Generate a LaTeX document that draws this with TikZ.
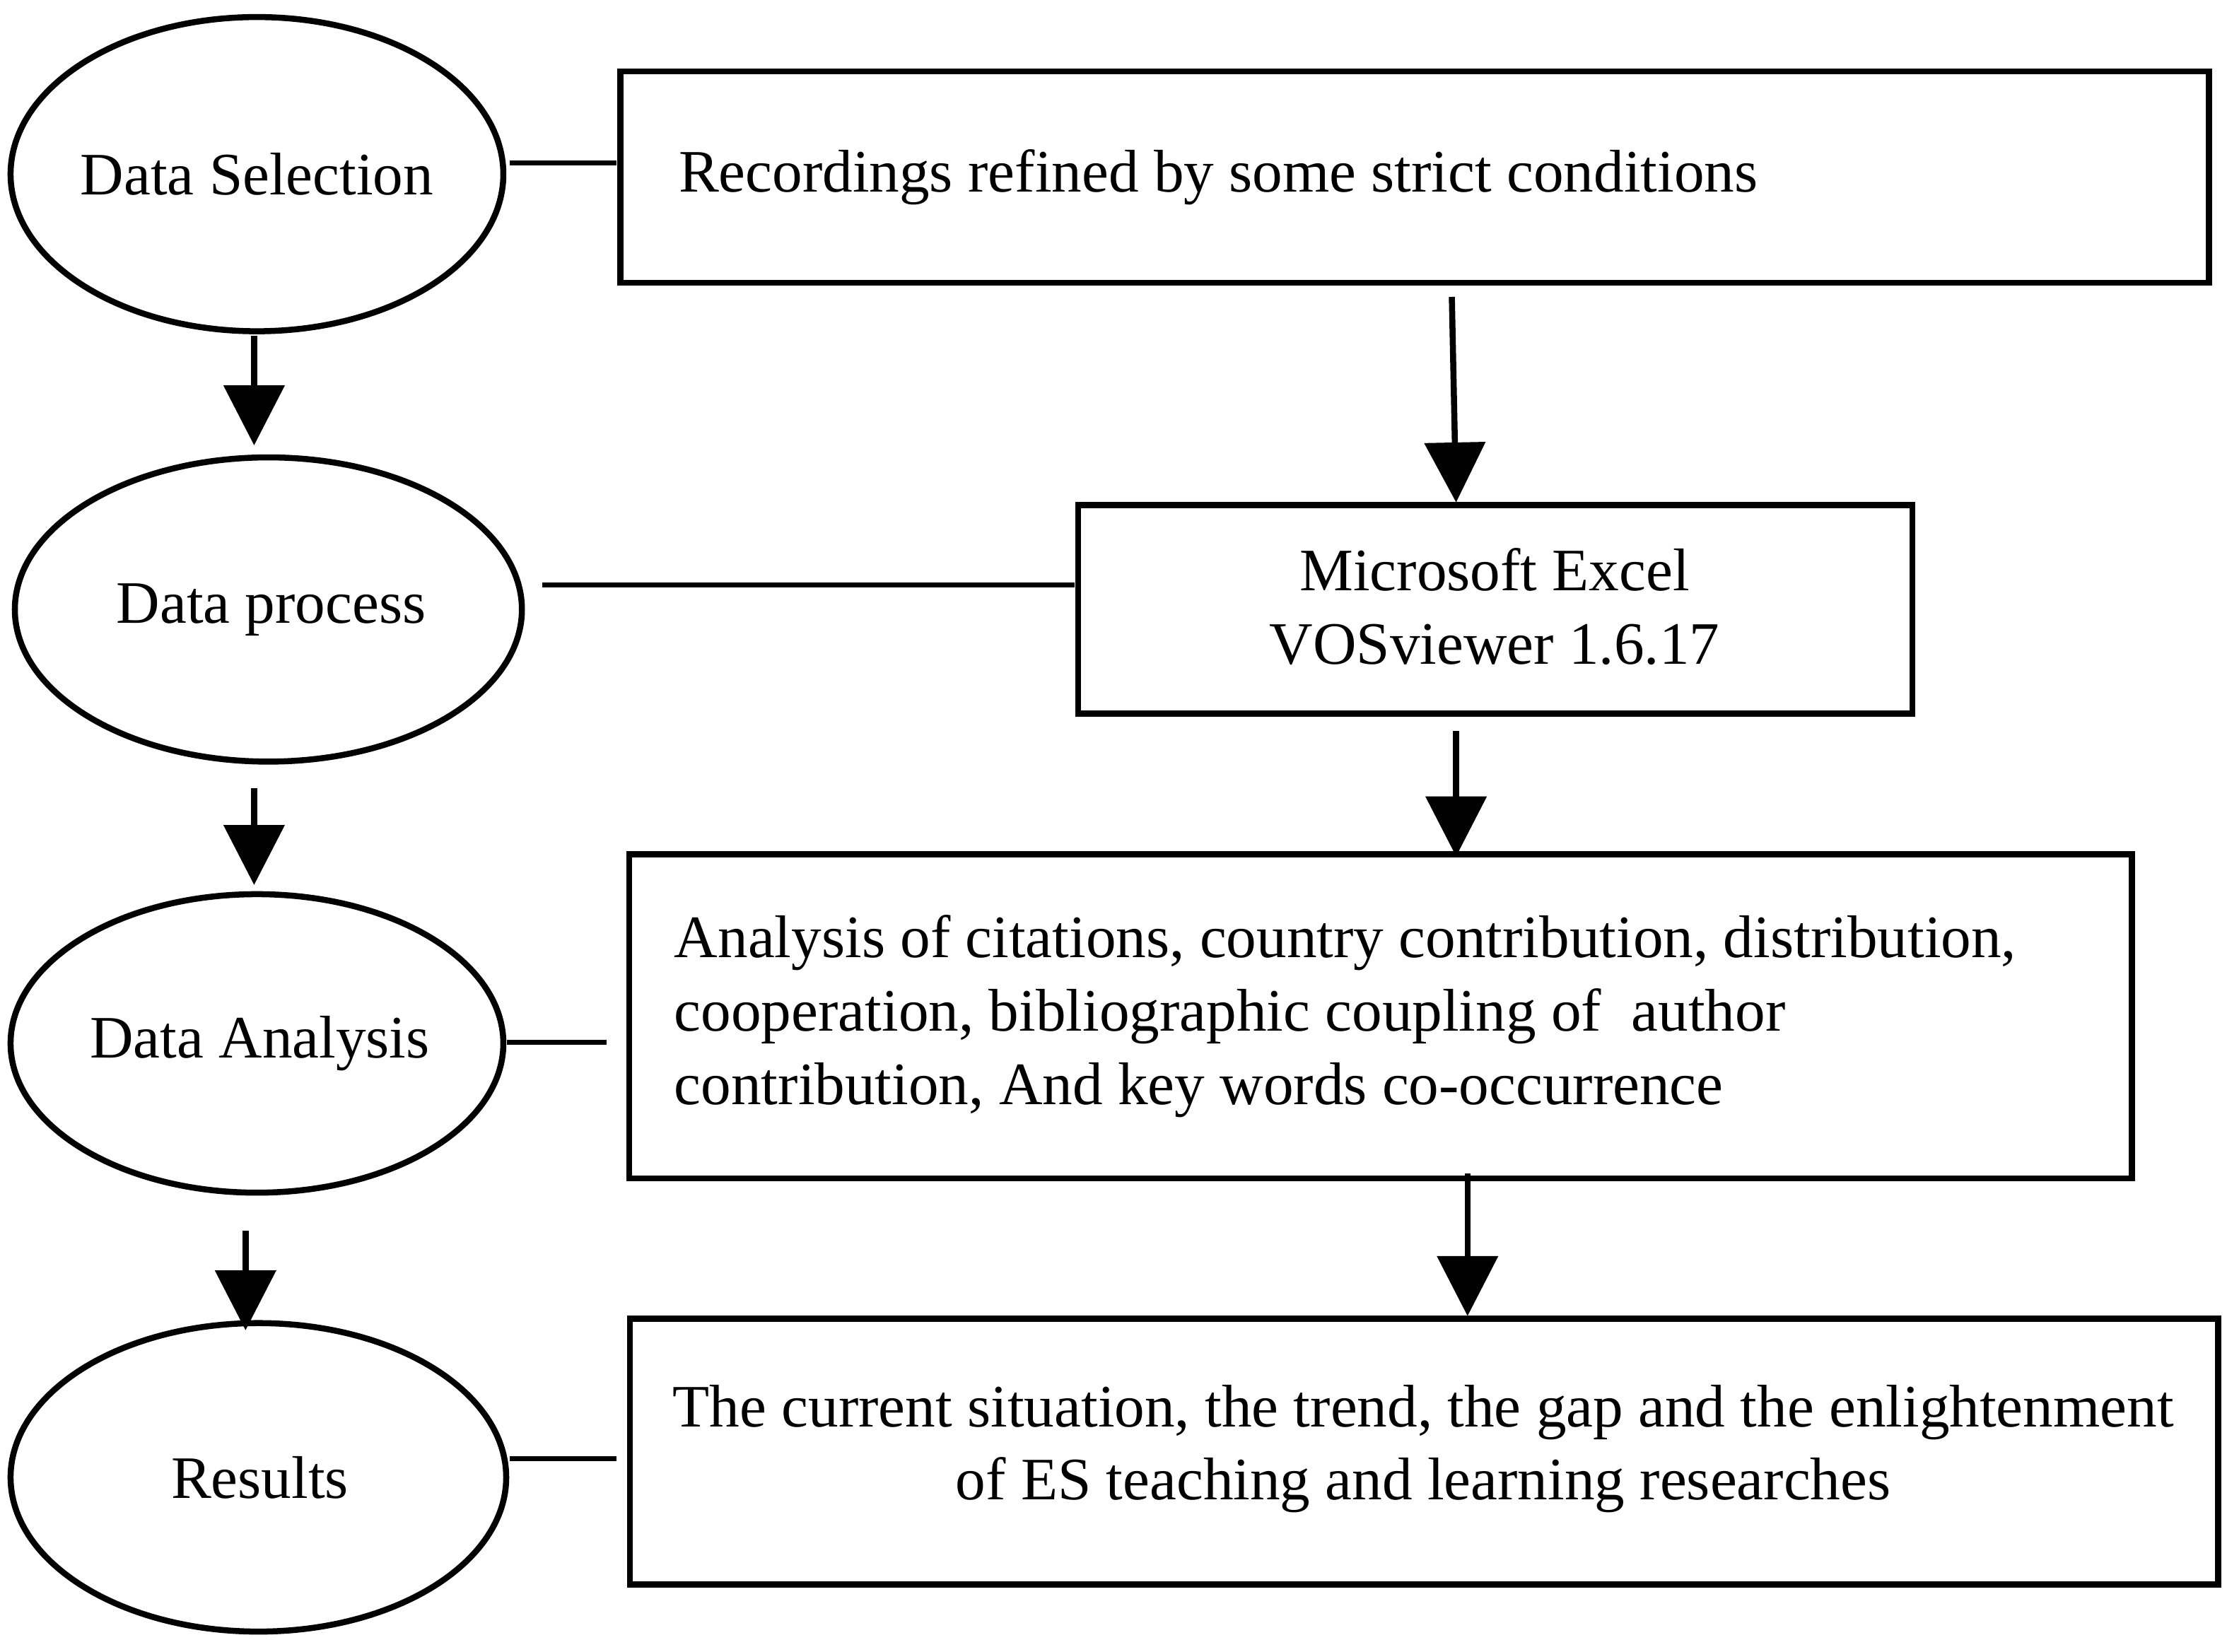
\documentclass[tikz,border=0pt]{standalone}
\usepackage{fontspec}
\setmainfont{Liberation Serif}
\usetikzlibrary{shapes.geometric,arrows.meta}
\begin{document}
\begin{tikzpicture}[x=0.01cm,y=-0.01cm,
  ell/.style={draw,line width=1.2pt,ellipse,inner sep=0pt},
  box/.style={draw,line width=1.2pt,rectangle,inner sep=0pt},
  lbl/.style={font=\fontsize{12}{14.6}\selectfont},
  arr/.style={line width=1.2pt,-{Triangle[length=4.2mm,width=4.2mm]}},
  ln/.style={line width=1pt}]
\useasboundingbox (0,0) rectangle (1560,1157);
\node[ell,minimum width=3.45cm,minimum height=2.2cm] (e1) at (180,122) {};
\node[ell,minimum width=3.55cm,minimum height=2.13cm] (e2) at (188,427) {};
\node[ell,minimum width=3.45cm,minimum height=2.09cm] (e3) at (180,731) {};
\node[ell,minimum width=3.47cm,minimum height=2.16cm] (e4) at (181,1035) {};
\node[lbl] (t1) at (180,122) {Data Selection};
\node[lbl] (t2) at (190,427) {Data process};
\node[lbl] (t3) at (182,731) {Data Analysis};
\node[lbl] (t4) at (182,1035) {Results};
\node[box,minimum width=11.12cm,minimum height=1.48cm] (b1) at (991,124) {};
\node[box,minimum width=5.84cm,minimum height=1.46cm] (b2) at (1047.5,427) {};
\node[box,minimum width=10.52cm,minimum height=2.27cm] (b3) at (967,712) {};
\node[box,minimum width=11.12cm,minimum height=1.86cm] (b4) at (997.5,1017) {};
\node[lbl,anchor=west] (x1) at (463,124) {Recordings refined by some strict conditions};
\node[lbl,align=center] (x2) at (1047,425) {Microsoft Excel\\VOSviewer 1.6.17};
\node[lbl,align=left,anchor=west] (x3) at (460,712) {Analysis of citations, country contribution, distribution,\\cooperation, bibliographic coupling of\ \ author\\contribution, And key words co-occurrence};
\node[lbl,align=center] (x4) at (997,1015) {The current situation, the trend, the gap and the enlightenment\\of ES teaching and learning researches};
\coordinate (l1a) at (357,114); \coordinate (l1b) at (432,114);
\coordinate (l2a) at (380,410); \coordinate (l2b) at (753,410);
\coordinate (l3a) at (355,730); \coordinate (l3b) at (425,730);
\coordinate (l4a) at (357,1022); \coordinate (l4b) at (432,1022);
\draw[ln] (l1a)--(l1b); \draw[ln] (l2a)--(l2b); \draw[ln] (l3a)--(l3b); \draw[ln] (l4a)--(l4b);
\coordinate (a1s) at (178,235); \coordinate (a1e) at (178,312);
\coordinate (a2s) at (1017,208); \coordinate (a2e) at (1020,352);
\coordinate (a3s) at (178,552); \coordinate (a3e) at (178,620);
\coordinate (a4s) at (1020,512); \coordinate (a4e) at (1020,600);
\coordinate (a5s) at (172,862); \coordinate (a5e) at (172,932);
\coordinate (a6s) at (1028,822); \coordinate (a6e) at (1028,922);
\foreach \i in {1,...,6}{\draw[arr] (a\i s)--(a\i e);}
\end{tikzpicture}
\end{document}
